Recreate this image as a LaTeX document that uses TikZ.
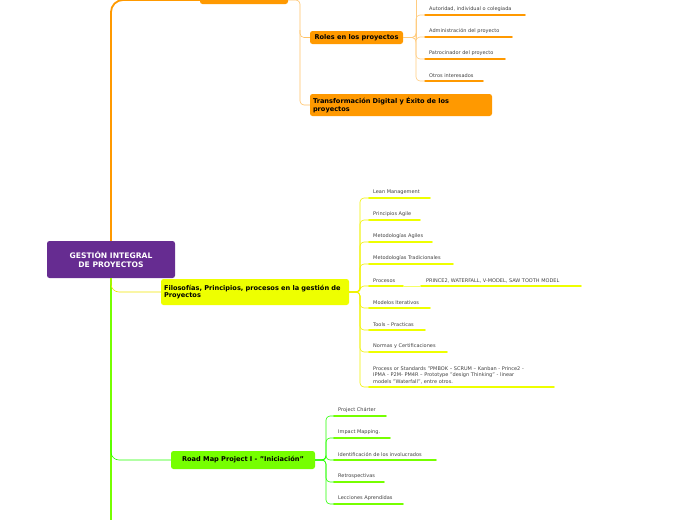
\documentclass[tikz,border=0pt]{standalone}
\usepackage{fontspec}
\setmainfont{DejaVu Sans}
\begin{document}
\begin{tikzpicture}[x=1pt,y=-1pt,
  main/.style={rounded corners=2.5pt,font=\bfseries\fontsize{6.6}{7.8}\selectfont,align=left,inner sep=3pt,text=black},
  leaf/.style={font=\fontsize{5}{6.6}\selectfont,text=black!75,anchor=south west,inner sep=1pt,align=left},
  orl/.style={draw=orange!90!yellow,line width=0.6pt,rounded corners=4pt},
  yl/.style={draw=yellow!90!orange,line width=0.6pt,rounded corners=4pt},
  gl/.style={draw=green!80!lime,line width=0.6pt,rounded corners=4pt}]
\definecolor{orn}{RGB}{255,153,0}
\definecolor{yel}{RGB}{238,255,0}
\definecolor{grn}{RGB}{118,255,0}
\definecolor{pur}{RGB}{102,44,145}
\useasboundingbox (0,0) rectangle (697,520);
% root
\node[main,fill=pur,text=white,align=center,minimum width=128pt,minimum height=37pt,font=\bfseries\fontsize{7.6}{9.4}\selectfont] (root) at (111,259.5) {GESTIÓN INTEGRAL\\DE PROYECTOS};
% trunks
\coordinate (ot) at (200,0);
\draw[orn,line width=1.8pt,rounded corners=12pt] (root.north -| 111,0) -- (111,0) -- (ot);
\fill[orn,rounded corners=2.5pt] (200,-5) rectangle (288,4);
\coordinate (gb) at (111,520);
\draw[grn,line width=1.8pt] (root.south -| 111,0) -- (gb);
% orange sub-branches
\node[main,fill=orn,minimum width=93pt,minimum height=13pt] (roles) at (356.5,37.5) {Roles en los proyectos};
\node[main,fill=orn,text width=176pt,minimum height=22pt] (trans) at (401,105) {Transformación Digital y Éxito de los\\proyectos};
\draw[orl,draw=orn!60] (288,0) -- (300,0) -- (300,37.5) -- (roles.west);
\draw[orl,draw=orn!60] (300,30) -- (300,105) -- (trans.west);
% roles leaves
\coordinate (rl0) at (416,0);
\foreach \n/\t/\y/\w in {r1/{Autoridad, individual o colegiada}/15/100, r2/{Administración del proyecto}/37/87, r3/{Patrocinador del proyecto}/59/80, r4/{Otros interesados}/81/58}{
  \node[leaf] (\n) at (428,\y-2) {\t};
  \draw[orn,line width=1.6pt,line cap=round] (425,\y) -- ++(\w,0);
  \draw[orl,draw=orn!50] (roles.east) -- (416,37.5) -- (416,\y) -- (425,\y);
}
\draw[orl,draw=orn!50] (416,37.5) -- (rl0);
% yellow branch
\node[main,fill=yel,text width=182pt,minimum height=26pt] (filo) at (255,292) {Filosofías, Principios, procesos en la gestión de Proyectos};
\draw[yl,draw=yel!80!orange,rounded corners=8pt] (111,278) -- (111,292) -- (filo.west);
\foreach \n/\t/\y/\w in {y1/{Lean Management}/198/61, y2/{Principios Agile}/220/51, y3/{Metodologías Agiles}/242/63, y4/{Metodologías Tradicionales}/264/84, y5/{Procesos}/286/34, y6/{Modelos Iterativos}/308/61, y7/{Tools – Practicas}/330/56, y8/{Normas y Certificaciones}/352/78}{
  \node[leaf] (\n) at (372,\y-2) {\t};
  \draw[yel,line width=1.6pt,line cap=round] (369,\y) -- ++(\w,0);
  \draw[yl,draw=yel!90!orange] (filo.east) -- (360,292) -- (360,\y) -- (369,\y);
}
\node[leaf,text width=172pt] (y9) at (372,385) {Process or Standards "PMBOK – SCRUM – Kanban - Prince2 -\\IPMA - P2M- PM4R – Prototype "design Thinking" - linear\\models "Waterfall", entre otros.};
\draw[yel,line width=1.6pt,line cap=round] (369,387) -- (554,387);
\draw[yl,draw=yel!90!orange] (filo.east) -- (360,292) -- (360,387) -- (369,387);
\node[leaf] (pr) at (425,284) {PRINCE2, WATERFALL, V-MODEL, SAW TOOTH MODEL};
\draw[yel,line width=1.6pt,line cap=round] (421,286) -- (581,286);
\draw[yel!60,line width=0.6pt] (403,286) -- (421,286);
% green branch
\node[main,fill=grn,minimum width=144pt,minimum height=18pt] (road) at (243,460) {Road Map Project I - "Iniciación"};
\draw[gl,rounded corners=8pt] (111,440) -- (111,460) -- (road.west);
\foreach \n/\t/\y/\w in {g1/{Project Chárter}/416/52, g2/{Impact Mapping.}/438/56, g3/{Identificación de los involucrados}/460/102, g4/{Retrospectivas}/482/50, g5/{Lecciones Aprendidas}/504/69}{
  \node[leaf] (\n) at (337,\y-2) {\t};
  \draw[grn,line width=1.6pt,line cap=round] (334,\y) -- ++(\w,0);
  \draw[gl] (road.east) -- (326,460) -- (326,\y) -- (334,\y);
}
\end{tikzpicture}
\end{document}
